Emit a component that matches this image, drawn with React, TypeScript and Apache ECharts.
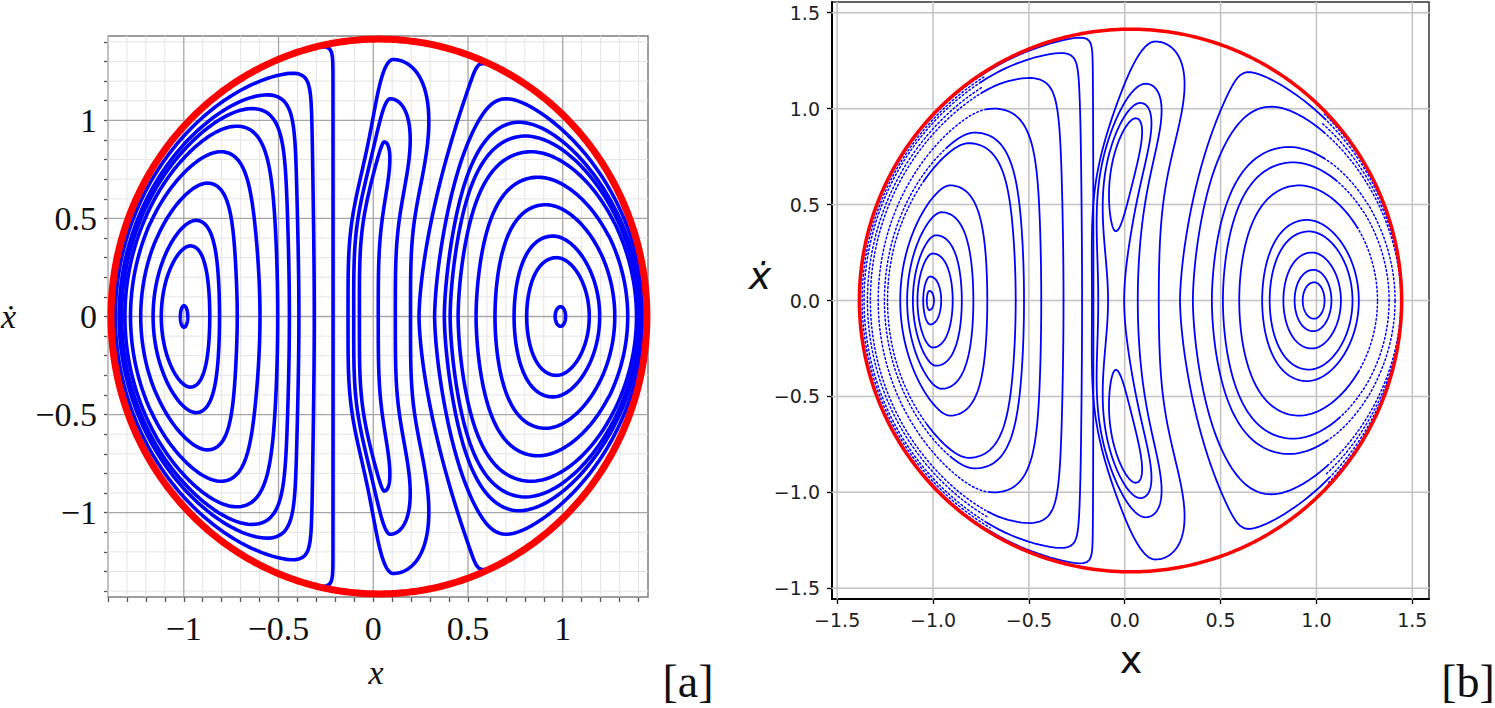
import React, { useEffect, useRef } from "react";
import * as echarts from "echarts";

// ---------- data ----------
// bounding circle (centre slightly right of 0, radius ~ sqrt 2)
const CIRCLE_CX = 0.03;
const CIRCLE_R = 1.4142;

// panel [a] axes
const aXRange = [-1.4, 1.45];
const aYRange = [-1.43, 1.43];
const aMajorTicks = [-1, -0.5, 0, 0.5, 1];
const aMinorTicks = [-1.4, -1.3, -1.2, -1.1, -1, -0.9, -0.8, -0.7, -0.6, -0.5, -0.4, -0.3, -0.2, -0.1, 0, 0.1, 0.2, 0.3, 0.4, 0.5, 0.6, 0.7, 0.8, 0.9, 1, 1.1, 1.2, 1.3, 1.4];
// panel [b] axes
const bXRange = [-1.527, 1.587];
const bYRange = [-1.556, 1.556];
const bTicks = [-1.5, -1, -0.5, 0, 0.5, 1, 1.5];

// closed orbits around the two centres: maximum xdot of each orbit
const aLeftTops = [0.055, 0.36, 0.49, 0.68, 0.84, 0.97, 1.06, 1.13, 1.24, 1.375];
const aRightTops = [0.05, 0.3, 0.41, 0.57, 0.71, 0.84, 0.92, 0.99, 1.11, 1.29];
const bLeftTops = [0.05, 0.125, 0.245, 0.34, 0.46, 0.6, 0.82, 0.875, 1.0, 1.16, 1.29, 1.37];
const bLeftFastOnly = [1.22, 1.33];
const bRightTops = [0.095, 0.16, 0.25, 0.36, 0.42, 0.6, 0.72, 0.8, 1.01, 1.19];
const bRightFastOnly = [1.1, 1.25];

// middle loops: top xdot, x of left and right legs at the widest row
const aMidTops = [0.89, 1.11, 1.31];
const aMidLeftX = [-0.07, -0.1, -0.13];
const aMidRightX = [0.03, 0.12, 0.2];
const bMidTops = [0.95, 1.03, 1.13, 1.35];
const bMidLeftX = [-0.063, -0.09, -0.115, -0.13];
const bMidRightX = [0.068, 0.11, 0.15, 0.24];

// well centres, separators and orbit-shape settings
const aWells = { left: -1.0, right: 0.99, sepL: -0.21, sepR0: 0.24, sepRTop: 0.55, sigL: 0.27, sigR: 0.25, outL: 0.33, inL: 0.38, outR: 0.5, inR: 0.6, qL: 6, qR: 5 };
const bWells = { left: -1.02, right: 0.99, sepL: -0.15, sepR0: 0.25, sepRTop: 0.55, sigL: 0.3, sigR: 0.22, outL: 0.25, inL: 0.5, outR: 0.55, inR: 0.65, qL: 8, qR: 6 };
const aMid = { y0: 0.3, k: 0.5, m0: -0.045, mA: 0.17, mB: 0.8 };
const bMid = { y0: 0.748, k: 0.1, m0: -0.05, mA: 0.3, mB: 1.1 };
// fast (sparsely sampled, dotted) band next to the circle in panel [b]
const bFastBand = 0.17;

// ---------- geometry helpers ----------
const NTH = 360;

type Bound = { rc: number[]; rl: number[]; cx: number; side: number; sig: number };

function boundary(cx: number, side: number, g: (y: number) => number, sig: number): Bound {
  const rc: number[] = [], rl: number[] = [];
  for (let i = 0; i < NTH; i++) {
    const th = (2 * Math.PI * i) / NTH;
    const c = Math.cos(th), s = Math.sin(th);
    const pos = (r: number) => {
      const y = r * s;
      return [cx + r * c - side * sig * y * y, y];
    };
    const inC = (r: number) => {
      const [x, y] = pos(r);
      return (x - CIRCLE_CX) * (x - CIRCLE_CX) + y * y < CIRCLE_R * CIRCLE_R;
    };
    const inS = (r: number) => {
      const [x, y] = pos(r);
      return side * (x - g(y)) > 0;
    };
    const firstExit = (f: (r: number) => boolean) => {
      const step = 0.004;
      for (let r = step; r < 3.2; r += step) {
        if (!f(r)) {
          let lo = r - step, hi = r;
          for (let k = 0; k < 28; k++) {
            const m = (lo + hi) / 2;
            if (f(m)) lo = m; else hi = m;
          }
          return lo;
        }
      }
      return Infinity;
    };
    rc.push(firstExit(inC));
    rl.push(firstExit(inS));
  }
  return { rc, rl, cx, side, sig };
}

function orbitPoints(B: Bound, t: number, axOut: number, axIn: number, q: number) {
  const w = Math.pow(t, q);
  const p = 2 + 40 * Math.pow(t, 20);
  const pts: number[][] = [];
  for (let i = 0; i <= NTH; i++) {
    const th = (2 * Math.PI * i) / NTH;
    const c = Math.cos(th), s = Math.sin(th);
    const ax = B.side * c > 0 ? axOut : axIn;
    const re = 1 / Math.sqrt((c / ax) * (c / ax) + s * s);
    const a = B.rc[i % NTH], b = B.rl[i % NTH];
    const Rhard = Math.min(a, b);
    const R = b === Infinity ? a : Math.pow(Math.pow(a, -p) + Math.pow(b, -p), -1 / p);
    const r = Math.min(t * ((1 - w) * re + w * R), Rhard * 0.998);
    const y = r * s;
    pts.push([B.cx + r * c - B.side * B.sig * y * y, y]);
  }
  return pts;
}

function orbitForTop(B: Bound, top: number, axOut: number, axIn: number, q: number) {
  let lo = 0, hi = 1;
  for (let k = 0; k < 36; k++) {
    const m = (lo + hi) / 2;
    const pts = orbitPoints(B, m, axOut, axIn, q);
    let my = -Infinity;
    for (const pt of pts) if (pt[1] > my) my = pt[1];
    if (my < top) lo = m; else hi = m;
  }
  return orbitPoints(B, (lo + hi) / 2, axOut, axIn, q);
}

function midLoops(top: number, leftX: number, rightX: number, P: any) {
  const y0s = P.y0 * P.y0;
  const V = (y: number) => (y * y - y0s) ** 2 + P.k * Math.pow(y, 8);
  const m = (y: number) => P.m0 + (P.mA * y ** 4) / (y ** 4 + P.mB ** 4);
  const vt = V(top);
  let yw = 0, vmin = Infinity;
  for (let k = 0; k <= 400; k++) {
    const y = (top * k) / 400;
    const v = V(y);
    if (v < vmin) { vmin = v; yw = y; }
  }
  const Dmax = vt - vmin;
  const hl = m(yw) - leftX, hr = rightX - m(yw);
  const solve = (a: number, b: number) => {
    let lo = a, hi = b;
    const sa = Math.sign(V(a) - vt);
    for (let k = 0; k < 50; k++) {
      const md = (lo + hi) / 2;
      if (Math.sign(V(md) - vt) === sa) lo = md; else hi = md;
    }
    return (lo + hi) / 2;
  };
  const yTop = solve(yw, top + 0.5);
  const ranges = V(0) >= vt
    ? [[solve(0, yw), yTop], [-yTop, -solve(0, yw)]]
    : [[-yTop, yTop]];
  return ranges.map(([ya, yb]) => {
    const M = 260;
    const right: number[][] = [], left: number[][] = [];
    for (let k = 0; k <= M; k++) {
      const phi = (Math.PI * k) / M;
      const y = (ya + yb) / 2 - ((yb - ya) / 2) * Math.cos(phi);
      const gg = Math.sqrt(Math.max(0, vt - V(y)) / Dmax);
      right.push([m(Math.abs(y)) + hr * gg, y]);
      left.push([m(Math.abs(y)) - hl * gg, y]);
    }
    return right.concat(left.reverse());
  });
}

function splitSegments(pts: number[][], fast: (p: number[]) => boolean) {
  const segs: { pts: number[][]; dot: boolean }[] = [];
  let cur: number[][] = [];
  let curDot = fast(pts[0]);
  for (const p of pts) {
    const d = fast(p);
    if (d !== curDot) {
      cur.push(p);
      segs.push({ pts: cur, dot: curDot });
      cur = [p];
      curDot = d;
    } else cur.push(p);
  }
  segs.push({ pts: cur, dot: curDot });
  return segs;
}

function circlePoints() {
  const pts: number[][] = [];
  for (let i = 0; i <= 720; i++) {
    const th = (2 * Math.PI * i) / 720;
    pts.push([CIRCLE_CX + CIRCLE_R * Math.cos(th), CIRCLE_R * Math.sin(th)]);
  }
  return pts;
}

function lineSeries(pts: number[][], gi: number, color: string, width: number, type: any = "solid", z = 3, clip = true) {
  return {
    type: "line",
    xAxisIndex: gi,
    yAxisIndex: gi,
    data: pts,
    showSymbol: false,
    symbol: "none",
    smooth: false,
    clip,
    silent: true,
    z,
    lineStyle: { color, width, type, cap: "round", join: "round" },
    emphasis: { disabled: true },
    animation: false,
  };
}

const fmtA = (v: number) => (v < 0 ? "\u2212" + Math.abs(v) : String(v));
const fmtB = (v: number) => (v < 0 ? "\u2212" + Math.abs(v).toFixed(1) : v.toFixed(1));

function buildOption() {
  const series: any[] = [];
  const BLUE = "#0000ff";
  const RED = "#ff0000";

  // ---- grid lines ----
  for (const v of aMinorTicks) {
    const major = aMajorTicks.indexOf(v) >= 0;
    const col = major ? "#a6a6a6" : "#e4e4e4";
    const wd = major ? 1.3 : 1;
    series.push(lineSeries([[v, aYRange[0]], [v, aYRange[1]]], 0, col, wd, "solid", major ? 2 : 1));
    series.push(lineSeries([[aXRange[0], v], [aXRange[1], v]], 0, col, wd, "solid", major ? 2 : 1));
  }
  for (const v of bTicks) {
    series.push(lineSeries([[v, bYRange[0]], [v, bYRange[1]]], 1, "#c2c2c2", 1.5, "solid", 1));
    series.push(lineSeries([[bXRange[0], v], [bXRange[1], v]], 1, "#c2c2c2", 1.5, "solid", 1));
  }

  // ---- panel [a] ----
  {
    const W = aWells;
    const gL = (_y: number) => W.sepL;
    const gR = (y: number) => W.sepR0 + (W.sepRTop - W.sepR0) * Math.pow(Math.abs(y / 1.3), 1.6);
    const BL = boundary(W.left, -1, gL, W.sigL);
    const BR = boundary(W.right, 1, gR, W.sigR);
    for (const t of aLeftTops) series.push(lineSeries(orbitForTop(BL, t, W.outL, W.inL, W.qL), 0, BLUE, 3.6));
    for (const t of aRightTops) series.push(lineSeries(orbitForTop(BR, t, W.outR, W.inR, W.qR), 0, BLUE, 3.6));
    aMidTops.forEach((t, i) => {
      for (const loop of midLoops(t, aMidLeftX[i], aMidRightX[i], aMid)) series.push(lineSeries(loop, 0, BLUE, 3.6));
    });
    series.push(lineSeries(circlePoints(), 0, RED, 7, "solid", 5, false));
  }

  // ---- panel [b] ----
  {
    const W = bWells;
    const gL = (_y: number) => W.sepL;
    const gR = (y: number) => W.sepR0 + (W.sepRTop - W.sepR0) * Math.pow(Math.abs(y / 1.3), 1.6);
    const BL = boundary(W.left, -1, gL, W.sigL);
    const BR = boundary(W.right, 1, gR, W.sigR);
    const nearCircle = (p: number[]) => CIRCLE_R - Math.hypot(p[0] - CIRCLE_CX, p[1]) < bFastBand;
    const fastL = (p: number[]) => p[0] < -0.72 && nearCircle(p);
    const fastR = (p: number[]) => p[0] > 1.05 && nearCircle(p);
    const DOT = [1.6, 2.6];
    const addSplit = (pts: number[][], fast: (p: number[]) => boolean, fastOnly: boolean) => {
      for (const s of splitSegments(pts, fast)) {
        if (s.dot) series.push(lineSeries(s.pts, 1, BLUE, 1.5, DOT));
        else if (!fastOnly) series.push(lineSeries(s.pts, 1, BLUE, 1.8));
      }
    };
    for (const t of bLeftTops) addSplit(orbitForTop(BL, t, W.outL, W.inL, W.qL), fastL, false);
    for (const t of bLeftFastOnly) addSplit(orbitForTop(BL, t, W.outL, W.inL, W.qL), fastL, true);
    for (const t of bRightTops) addSplit(orbitForTop(BR, t, W.outR, W.inR, W.qR), fastR, false);
    for (const t of bRightFastOnly) addSplit(orbitForTop(BR, t, W.outR, W.inR, W.qR), fastR, true);
    bMidTops.forEach((t, i) => {
      for (const loop of midLoops(t, bMidLeftX[i], bMidRightX[i], bMid)) series.push(lineSeries(loop, 1, BLUE, 1.8));
    });
    series.push(lineSeries(circlePoints(), 1, RED, 3.5, "solid", 5, false));
  }

  const serifLabel = { fontFamily: "Liberation Serif, DejaVu Serif, serif", fontSize: 34, color: "#111" };
  const sansLabel = { fontFamily: "DejaVu Sans, sans-serif", fontSize: 19, color: "#222" };
  const txt = (x: number, y: number, text: string, font: string, align = "center") => ({
    type: "text", x, y, silent: true,
    style: { text, font, fill: "#111", align, verticalAlign: "middle", textAlign: align, textVerticalAlign: "middle" },
  });

  return {
    animation: false,
    grid: [
      { left: 108, top: 36, width: 540, height: 561, show: true, borderColor: "#7d7d7d", borderWidth: 1.5, backgroundColor: "transparent" },
      { left: 832, top: 2, width: 597, height: 597, show: true, borderColor: "#333", borderWidth: 1.5, backgroundColor: "transparent" },
    ],
    xAxis: [
      {
        gridIndex: 0, type: "value", min: aXRange[0], max: aXRange[1],
        axisLine: { show: false, onZero: false },
        axisTick: { show: true, customValues: aMinorTicks, length: 5, lineStyle: { color: "#555", width: 1.3 } },
        axisLabel: { ...serifLabel, customValues: aMajorTicks, formatter: fmtA, margin: 14 },
        splitLine: { show: false },
      },
      {
        gridIndex: 1, type: "value", min: bXRange[0], max: bXRange[1],
        axisLine: { show: true, onZero: false, lineStyle: { color: "#000", width: 2 } },
        axisTick: { show: true, customValues: bTicks, length: 5, lineStyle: { color: "#000", width: 1.3 } },
        axisLabel: { ...sansLabel, customValues: bTicks, formatter: fmtB, margin: 11 },
        splitLine: { show: false },
      },
    ],
    yAxis: [
      {
        gridIndex: 0, type: "value", min: aYRange[0], max: aYRange[1],
        axisLine: { show: false, onZero: false },
        axisTick: { show: true, customValues: aMinorTicks, length: 4, lineStyle: { color: "#555", width: 1.3 } },
        axisLabel: { ...serifLabel, customValues: aMajorTicks, formatter: fmtA, margin: 11 },
        splitLine: { show: false },
      },
      {
        gridIndex: 1, type: "value", min: bYRange[0], max: bYRange[1],
        axisLine: { show: true, onZero: false, lineStyle: { color: "#000", width: 2 } },
        axisTick: { show: true, customValues: bTicks, length: 5, lineStyle: { color: "#000", width: 1.3 } },
        axisLabel: { ...sansLabel, customValues: bTicks, formatter: fmtB, margin: 12 },
        splitLine: { show: false },
      },
    ],
    graphic: [
      txt(376, 672, "x", 'italic 34px "Liberation Serif"'),
      txt(1, 316, "\u1E8B", 'italic 34px "Liberation Serif", "DejaVu Serif"', "left"),
      txt(688, 681, "[a]", '46px "Liberation Serif"'),
      txt(1131, 660, "x", '38px "DejaVu Sans"'),
      txt(760, 276, "\u1E8B", 'italic 38px "DejaVu Sans"'),
      txt(1468, 681, "[b]", '46px "Liberation Serif"'),
    ],
    series,
  };
}

export default function App() {
  const ref = useRef<HTMLDivElement>(null);
  useEffect(() => {
    if (!ref.current) return;
    const chart = echarts.init(ref.current, null, { renderer: "svg" });
    chart.setOption(buildOption() as any);
    return () => chart.dispose();
  }, []);
  return <div ref={ref} style={{ position: "fixed", left: 0, top: 0, width: 1495, height: 708, background: "#fff" }} />;
}
